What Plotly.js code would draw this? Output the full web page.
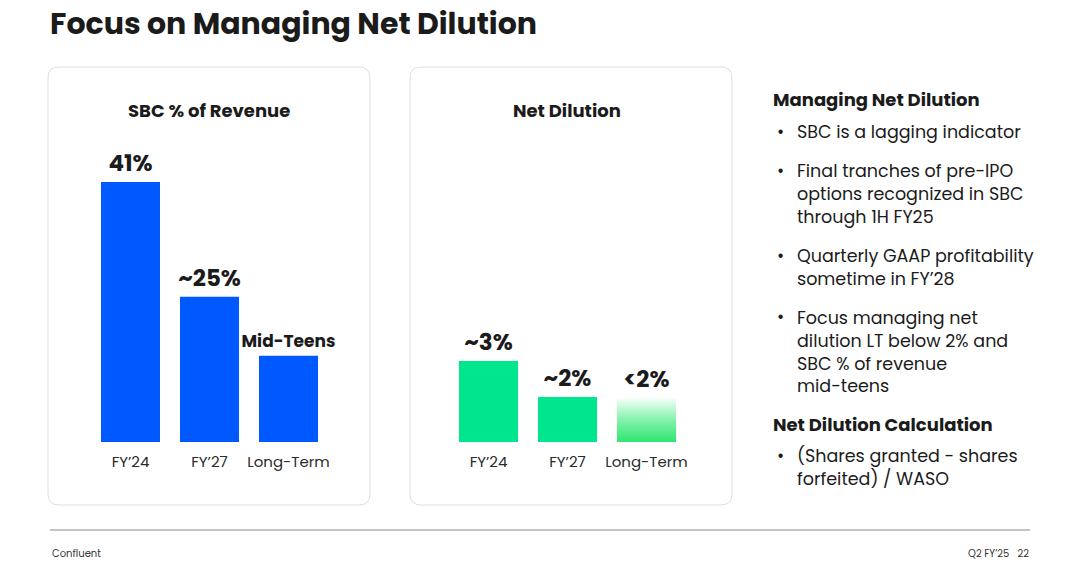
<!DOCTYPE html>
<html>
<head>
<meta charset="utf-8">
<script src="https://cdn.plot.ly/plotly-3.0.1.min.js"></script>
<style>
html,body{margin:0;padding:0;background:#fff;}
#chart{width:1080px;height:578px;}
</style>
</head>
<body>
<div id="chart"></div>
<script>
// ---- data ----
const categories = ['FY\u201924', 'FY\u201927', 'Long-Term'];
const sbcValues = [41, 22.9, 13.6];
const sbcLabels = ['41%', '~25%', 'Mid-Teens'];
const dilutionValues = [3, 1.67, 1.63];
const dilutionLabels = ['~3%', '~2%', '&lt;2%'];

const titleText = 'Focus on Managing Net Dilution';
const panelTitles = ['SBC % of Revenue', 'Net Dilution'];
const rightText = [
  {kind: 'head', lines: ['Managing Net Dilution'], y: 100},
  {kind: 'bullet', lines: ['SBC is a lagging indicator'], y: 132},
  {kind: 'bullet', lines: ['Final tranches of pre-IPO', 'options recognized in SBC', 'through 1H FY25'], y: 194},
  {kind: 'bullet', lines: ['Quarterly GAAP profitability', 'sometime in FY\u201928'], y: 267.5},
  {kind: 'bullet', lines: ['Focus managing net', 'dilution LT below 2% and', 'SBC % of revenue', 'mid-teens'], y: 351.5},
  {kind: 'head', lines: ['Net Dilution Calculation'], y: 424},
  {kind: 'bullet', lines: ['(Shares granted - shares', 'forfeited) / WASO'], y: 467.5}
];
const footerLeft = 'Confluent';
const footerRight = 'Q2 FY\u201925&nbsp;&nbsp;&nbsp;22';

// ---- geometry helpers ----
const W = 1080, H = 578;
const px = v => v / W;
const py = v => 1 - v / H;
const FONT = 'Poppins, Inter, "Open Sans", sans-serif';
const DARK = '#1b1b1b';
const BLUE = '#0058FF';
const GREEN = '#00E68E';

function roundRect(x0, y0, x1, y1, r) {
  const P = (x, y) => px(x).toFixed(5) + ',' + py(y).toFixed(5);
  return 'M' + P(x0 + r, y0) + ' L' + P(x1 - r, y0) + ' Q' + P(x1, y0) + ' ' + P(x1, y0 + r) +
    ' L' + P(x1, y1 - r) + ' Q' + P(x1, y1) + ' ' + P(x1 - r, y1) +
    ' L' + P(x0 + r, y1) + ' Q' + P(x0, y1) + ' ' + P(x0, y1 - r) +
    ' L' + P(x0, y0 + r) + ' Q' + P(x0, y0) + ' ' + P(x0 + r, y0) + ' Z';
}

const barCommon = {
  type: 'bar',
  textposition: 'outside',
  texttemplate: '%{text}',
  cliponaxis: false,
  constraintext: 'none',
  hoverinfo: 'skip'
};

const traces = [
  Object.assign({}, barCommon, {
    x: categories, y: sbcValues, text: sbcLabels,
    xaxis: 'x', yaxis: 'y',
    marker: {color: BLUE, line: {width: 0}},
    outsidetextfont: {family: FONT, size: [23, 23, 17], weight: 700, color: DARK},
    textfont: {family: FONT, size: [23, 23, 17], weight: 700, color: DARK}
  }),
  Object.assign({}, barCommon, {
    x: categories, y: dilutionValues, text: dilutionLabels,
    xaxis: 'x2', yaxis: 'y2',
    marker: {color: [GREEN, GREEN, '#3be87c'], line: {width: 0}},
    outsidetextfont: {family: FONT, size: 23, weight: 700, color: DARK},
    textfont: {family: FONT, size: 23, weight: 700, color: DARK}
  })
];

const yDomain = [py(442), py(142)];
const xAxisCommon = {
  type: 'category', showgrid: false, zeroline: false, showline: false, ticks: '',
  ticklabelstandoff: 9,
  tickfont: {family: FONT, size: 15, color: '#2a2a2a'}, fixedrange: true
};
const yAxisCommon = {
  showgrid: false, zeroline: false, showline: false, showticklabels: false, ticks: '',
  domain: yDomain, fixedrange: true
};

const annotations = [];
annotations.push({
  text: titleText, xref: 'paper', yref: 'paper', x: px(48), y: py(24),
  xanchor: 'left', yanchor: 'middle', showarrow: false,
  font: {family: FONT, size: 30, weight: 700, color: DARK}
});
annotations.push({
  text: panelTitles[0], xref: 'paper', yref: 'paper', x: px(209), y: py(110),
  xanchor: 'center', yanchor: 'middle', showarrow: false,
  font: {family: FONT, size: 18, weight: 700, color: DARK}
});
annotations.push({
  text: panelTitles[1], xref: 'paper', yref: 'paper', x: px(567), y: py(110),
  xanchor: 'center', yanchor: 'middle', showarrow: false,
  font: {family: FONT, size: 18, weight: 700, color: DARK}
});
const BODY = 17.5;
const LINE = BODY * 1.3;
rightText.forEach(block => {
  if (block.kind === 'head') {
    annotations.push({
      text: block.lines[0], xref: 'paper', yref: 'paper', x: px(771), y: py(block.y),
      xanchor: 'left', yanchor: 'middle', showarrow: false,
      font: {family: FONT, size: 18, weight: 700, color: DARK}
    });
  } else {
    const firstY = block.y - (block.lines.length - 1) * LINE / 2;
    annotations.push({
      text: '\u2022', xref: 'paper', yref: 'paper', x: px(780), y: py(firstY),
      xanchor: 'center', yanchor: 'middle', showarrow: false,
      font: {family: FONT, size: BODY, color: DARK}
    });
    annotations.push({
      text: block.lines.join('<br>'), xref: 'paper', yref: 'paper', x: px(795), y: py(block.y),
      xanchor: 'left', yanchor: 'middle', align: 'left', showarrow: false,
      font: {family: FONT, size: BODY, color: DARK}
    });
  }
});
annotations.push({
  text: footerLeft, xref: 'paper', yref: 'paper', x: px(50), y: py(553),
  xanchor: 'left', yanchor: 'middle', showarrow: false,
  font: {family: FONT, size: 10, color: '#333'}
});
annotations.push({
  text: footerRight, xref: 'paper', yref: 'paper', x: px(1031), y: py(553),
  xanchor: 'right', yanchor: 'middle', showarrow: false,
  font: {family: FONT, size: 10, color: '#333'}
});

const shapes = [
  {type: 'path', xref: 'paper', yref: 'paper', path: roundRect(48, 67, 370, 505, 11),
   fillcolor: '#ffffff', line: {color: '#dedede', width: 1}, layer: 'below'},
  {type: 'path', xref: 'paper', yref: 'paper', path: roundRect(410, 67, 732, 505, 11),
   fillcolor: '#ffffff', line: {color: '#dedede', width: 1}, layer: 'below'},
  {type: 'line', xref: 'paper', yref: 'paper', x0: px(50), x1: px(1030), y0: py(530), y1: py(530),
   line: {color: '#8a8a8a', width: 1.2}}
];

const layout = {
  width: W, height: H,
  margin: {l: 0, r: 0, t: 0, b: 0, pad: 0},
  paper_bgcolor: '#ffffff', plot_bgcolor: 'rgba(0,0,0,0)',
  showlegend: false,
  bargap: 0.253,
  font: {family: FONT, color: DARK},
  xaxis: Object.assign({}, xAxisCommon, {domain: [px(91), px(328)], anchor: 'y'}),
  yaxis: Object.assign({}, yAxisCommon, {range: [0, 47.3], anchor: 'x'}),
  xaxis2: Object.assign({}, xAxisCommon, {domain: [px(449), px(686)], anchor: 'y2'}),
  yaxis2: Object.assign({}, yAxisCommon, {range: [0, 11.11], anchor: 'x2'}),
  annotations: annotations,
  shapes: shapes
};

Plotly.newPlot('chart', traces, layout, {staticPlot: true, displayModeBar: false}).then(gd => {
  // gradient fill for the "Long-Term" net-dilution bar
  const svg = gd.querySelector('svg.main-svg');
  const NS = 'http://www.w3.org/2000/svg';
  let defs = svg.querySelector('defs');
  if (!defs) { defs = document.createElementNS(NS, 'defs'); svg.insertBefore(defs, svg.firstChild); }
  const grad = document.createElementNS(NS, 'linearGradient');
  grad.setAttribute('id', 'ltGrad');
  grad.setAttribute('x1', '0'); grad.setAttribute('y1', '1');
  grad.setAttribute('x2', '0'); grad.setAttribute('y2', '0');
  [['0', '#2ee670', 1], ['0.55', '#8ef3b3', 1], ['1', '#f6fff9', 1]].forEach(s => {
    const st = document.createElementNS(NS, 'stop');
    st.setAttribute('offset', s[0]);
    st.setAttribute('stop-color', s[1]);
    st.setAttribute('stop-opacity', s[2]);
    grad.appendChild(st);
  });
  defs.appendChild(grad);
  const traceGroups = gd.querySelectorAll('.barlayer .trace');
  if (traceGroups.length > 1) {
    const pts = traceGroups[1].querySelectorAll('.point path');
    if (pts.length > 2) pts[2].style.fill = 'url(#ltGrad)';
  }
});
</script>
</body>
</html>
